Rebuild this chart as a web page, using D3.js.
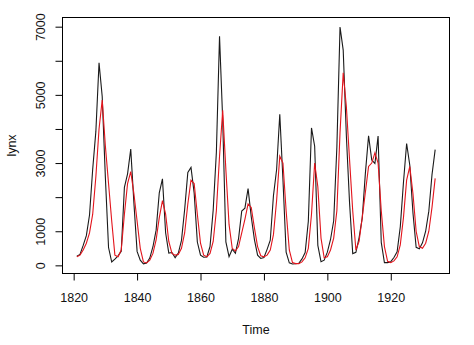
<!DOCTYPE html>
<html>
<head>
<meta charset="utf-8">
<script src="https://cdn.jsdelivr.net/npm/d3@7"></script>
<style>
  html, body { margin: 0; padding: 0; background: #fff; }
  svg { display: block; }
  text { font-family: "Liberation Sans", Arial, sans-serif; fill: #111; }
</style>
</head>
<body>
<svg id="chart" width="474" height="345"></svg>
<script>
// Annual lynx trappings, 1821-1934
const startYear = 1821;
const lynx = [
  269, 321, 585, 871, 1475, 2821, 3928, 5943, 4950, 2577,
  523, 98, 184, 279, 409, 2285, 2685, 3409, 1824, 409,
  151, 45, 68, 213, 546, 1033, 2129, 2536, 957, 361,
  377, 225, 360, 731, 1638, 2725, 2871, 2119, 684, 299,
  236, 245, 552, 1623, 3311, 6721, 4254, 687, 255, 473,
  358, 784, 1594, 1676, 2251, 1426, 756, 299, 201, 229,
  469, 736, 2042, 2811, 4431, 2511, 389, 73, 39, 49,
  59, 188, 377, 1292, 4031, 3495, 587, 105, 153, 387,
  758, 1307, 3465, 6991, 6313, 3794, 1836, 345, 382, 808,
  1388, 2713, 3800, 3091, 2985, 3790, 674, 81, 80, 108,
  229, 399, 1132, 2432, 3574, 2935, 1537, 529, 485, 662,
  1000, 1590, 2657, 3396
];

// Fitted (smoothed) series drawn in red
const fitted = [
  250, 300, 450, 650, 950, 1500, 2600, 4000, 4850, 3500,
  2400, 1300, 300, 250, 450, 1500, 2400, 2750, 2100, 1300,
  500, 100, 70, 150, 350, 750, 1400, 1900, 1500, 700,
  350, 300, 320, 500, 950, 1800, 2500, 2400, 1500, 650,
  300, 250, 350, 700, 1600, 3200, 4550, 2800, 1200, 500,
  420, 550, 950, 1350, 1800, 1700, 1100, 550, 280, 250,
  300, 450, 900, 1900, 3200, 3000, 1600, 450, 80, 50,
  50, 100, 220, 500, 1500, 3000, 2300, 800, 220, 250,
  450, 800, 1600, 3900, 5650, 4650, 3100, 1600, 450, 700,
  1400, 2150, 2900, 3000, 3300, 3000, 1600, 550, 120, 80,
  130, 250, 600, 1400, 2500, 2900, 2100, 1000, 550, 500,
  650, 1000, 1700, 2550
];

const xTicks = [1820, 1840, 1860, 1880, 1900, 1920];
const yTicks = [0, 1000, 2000, 3000, 4000, 5000, 6000, 7000];
const yTickLabels = ["0", "1000", "", "3000", "", "5000", "", "7000"];

const svg = d3.select("#chart");
const box = { left: 62.5, right: 449.5, top: 17.5, bottom: 273.5 };

const years = lynx.map((_, i) => startYear + i);
const xMin = d3.min(years), xMax = d3.max(years);
const xPad = (xMax - xMin) * 0.04;
const yLo = d3.min(lynx), yHi = d3.max(lynx);
const yPad = (yHi - yLo) * 0.04;

const x = d3.scaleLinear()
  .domain([xMin - xPad, xMax + xPad])
  .range([box.left, box.right]);
const y = d3.scaleLinear()
  .domain([yLo - yPad, yHi + yPad])
  .range([box.bottom, box.top]);

// Series lines
const line = d3.line()
  .x((d, i) => x(years[i]))
  .y(d => y(d));

svg.append("path")
  .datum(lynx)
  .attr("d", line)
  .attr("fill", "none")
  .attr("stroke", "#1a1a1a")
  .attr("stroke-width", 1.1);

svg.append("path")
  .datum(fitted)
  .attr("d", line)
  .attr("fill", "none")
  .attr("stroke", "#e3141c")
  .attr("stroke-width", 1.1);

// Bottom axis
const xAxis = d3.axisBottom(x)
  .tickValues(xTicks)
  .tickFormat(d3.format("d"))
  .tickSizeInner(7)
  .tickSizeOuter(0)
  .tickPadding(4);
const gx = svg.append("g")
  .attr("transform", `translate(0,${box.bottom})`)
  .call(xAxis);
gx.select(".domain")
  .attr("d", `M${x(xTicks[0])},0H${x(xTicks[xTicks.length - 1])}`);
gx.selectAll("text")
  .attr("font-size", 12.5)
  .attr("dy", null)
  .attr("y", 28.5)
  .attr("fill", "#111");

// Left axis with rotated labels
const yAxis = d3.axisLeft(y)
  .tickValues(yTicks)
  .tickFormat((d, i) => yTickLabels[i])
  .tickSizeInner(7)
  .tickSizeOuter(0);
const gy = svg.append("g")
  .attr("transform", `translate(${box.left},0)`)
  .call(yAxis);
gy.select(".domain")
  .attr("d", `M0,${y(yTicks[0])}V${y(yTicks[yTicks.length - 1])}`);
gy.selectAll(".tick text")
  .attr("font-size", 12.5)
  .attr("x", null)
  .attr("dy", null)
  .attr("text-anchor", "middle")
  .attr("transform", "translate(-17.5,0) rotate(-90)")
  .attr("fill", "#111");

svg.selectAll(".domain, .tick line")
  .attr("stroke", "#000");

// Plot frame
svg.append("rect")
  .attr("x", box.left)
  .attr("y", box.top)
  .attr("width", box.right - box.left)
  .attr("height", box.bottom - box.top)
  .attr("fill", "none")
  .attr("stroke", "#000")
  .attr("stroke-width", 1);

// Axis titles
svg.append("text")
  .attr("x", (box.left + box.right) / 2)
  .attr("y", 334)
  .attr("text-anchor", "middle")
  .attr("font-size", 12.5)
  .text("Time");

svg.append("text")
  .attr("transform", `translate(15.5,${(box.top + box.bottom) / 2}) rotate(-90)`)
  .attr("text-anchor", "middle")
  .attr("font-size", 12.5)
  .text("lynx");
</script>
</body>
</html>
